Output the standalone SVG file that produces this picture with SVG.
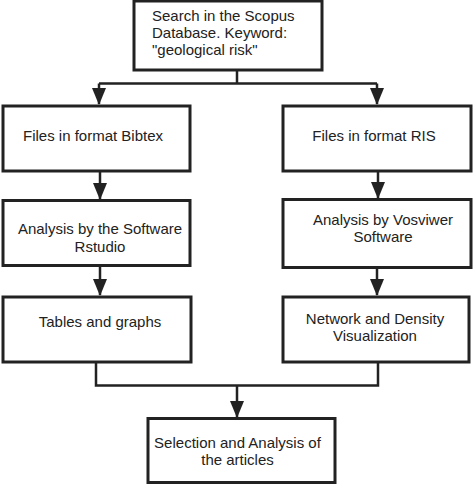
<svg xmlns="http://www.w3.org/2000/svg" width="474" height="485" viewBox="0 0 474 485">
<defs>
<style>
.box{fill:#fff;stroke:#222;stroke-width:3}
.ln{fill:none;stroke:#222;stroke-width:2.5}
text{font-family:"Liberation Sans",Arial,sans-serif;font-size:15px;fill:#222}
.c{text-anchor:middle}
</style>
<marker id="ah" markerWidth="17" markerHeight="14" refX="16" refY="7" orient="auto" markerUnits="userSpaceOnUse" viewBox="0 0 17 14">
<path d="M0,0 L17,7 L0,14 Z" fill="#222"/>
</marker>
</defs>
<rect width="474" height="485" fill="#fff"/>
<g id="connectors">
<path class="ln" d="M237,70 V83.5 M99,83.5 H377" />
<path class="ln" d="M99,83.5 V104" marker-end="url(#ah)"/>
<path class="ln" d="M377,83.5 V104" marker-end="url(#ah)"/>
<path class="ln" d="M100,171 V199" marker-end="url(#ah)"/>
<path class="ln" d="M378,171 V198" marker-end="url(#ah)"/>
<path class="ln" d="M100,266 V295" marker-end="url(#ah)"/>
<path class="ln" d="M377,267 V295" marker-end="url(#ah)"/>
<path class="ln" d="M96,362 V385.5 H378 V362 M237,385.5 V417" marker-end="url(#ah)"/>
</g>
<g id="n1"><rect class="box" x="134" y="1" width="188" height="69"/>
<text x="152" y="21">Search in the Scopus</text>
<text x="152" y="38">Database. Keyword:</text>
<text x="152" y="55">"geological risk"</text></g>
<g id="n2"><rect class="box" x="3" y="106" width="187" height="65"/>
<text class="c" x="93" y="141">Files in format Bibtex</text></g>
<g id="n3"><rect class="box" x="283" y="106" width="188" height="65"/>
<text class="c" x="374" y="141">Files in format RIS</text></g>
<g id="n4"><rect class="box" x="3" y="200.5" width="187" height="65"/>
<text class="c" x="100" y="234">Analysis by the Software</text>
<text class="c" x="100" y="251.5">Rstudio</text></g>
<g id="n5"><rect class="box" x="283" y="199.5" width="188" height="68"/>
<text class="c" x="383" y="225">Analysis by Vosviwer</text>
<text class="c" x="383" y="241.5">Software</text></g>
<g id="n6"><rect class="box" x="3" y="297" width="188" height="65"/>
<text class="c" x="100" y="327">Tables and graphs</text></g>
<g id="n7"><rect class="box" x="283" y="297" width="186" height="65"/>
<text class="c" x="375" y="324">Network and Density</text>
<text class="c" x="375" y="341">Visualization</text></g>
<g id="n8"><rect class="box" x="148" y="418.5" width="187" height="64"/>
<text class="c" x="237.5" y="448">Selection and Analysis of</text>
<text class="c" x="237.5" y="464.5">the articles</text></g>
</svg>
